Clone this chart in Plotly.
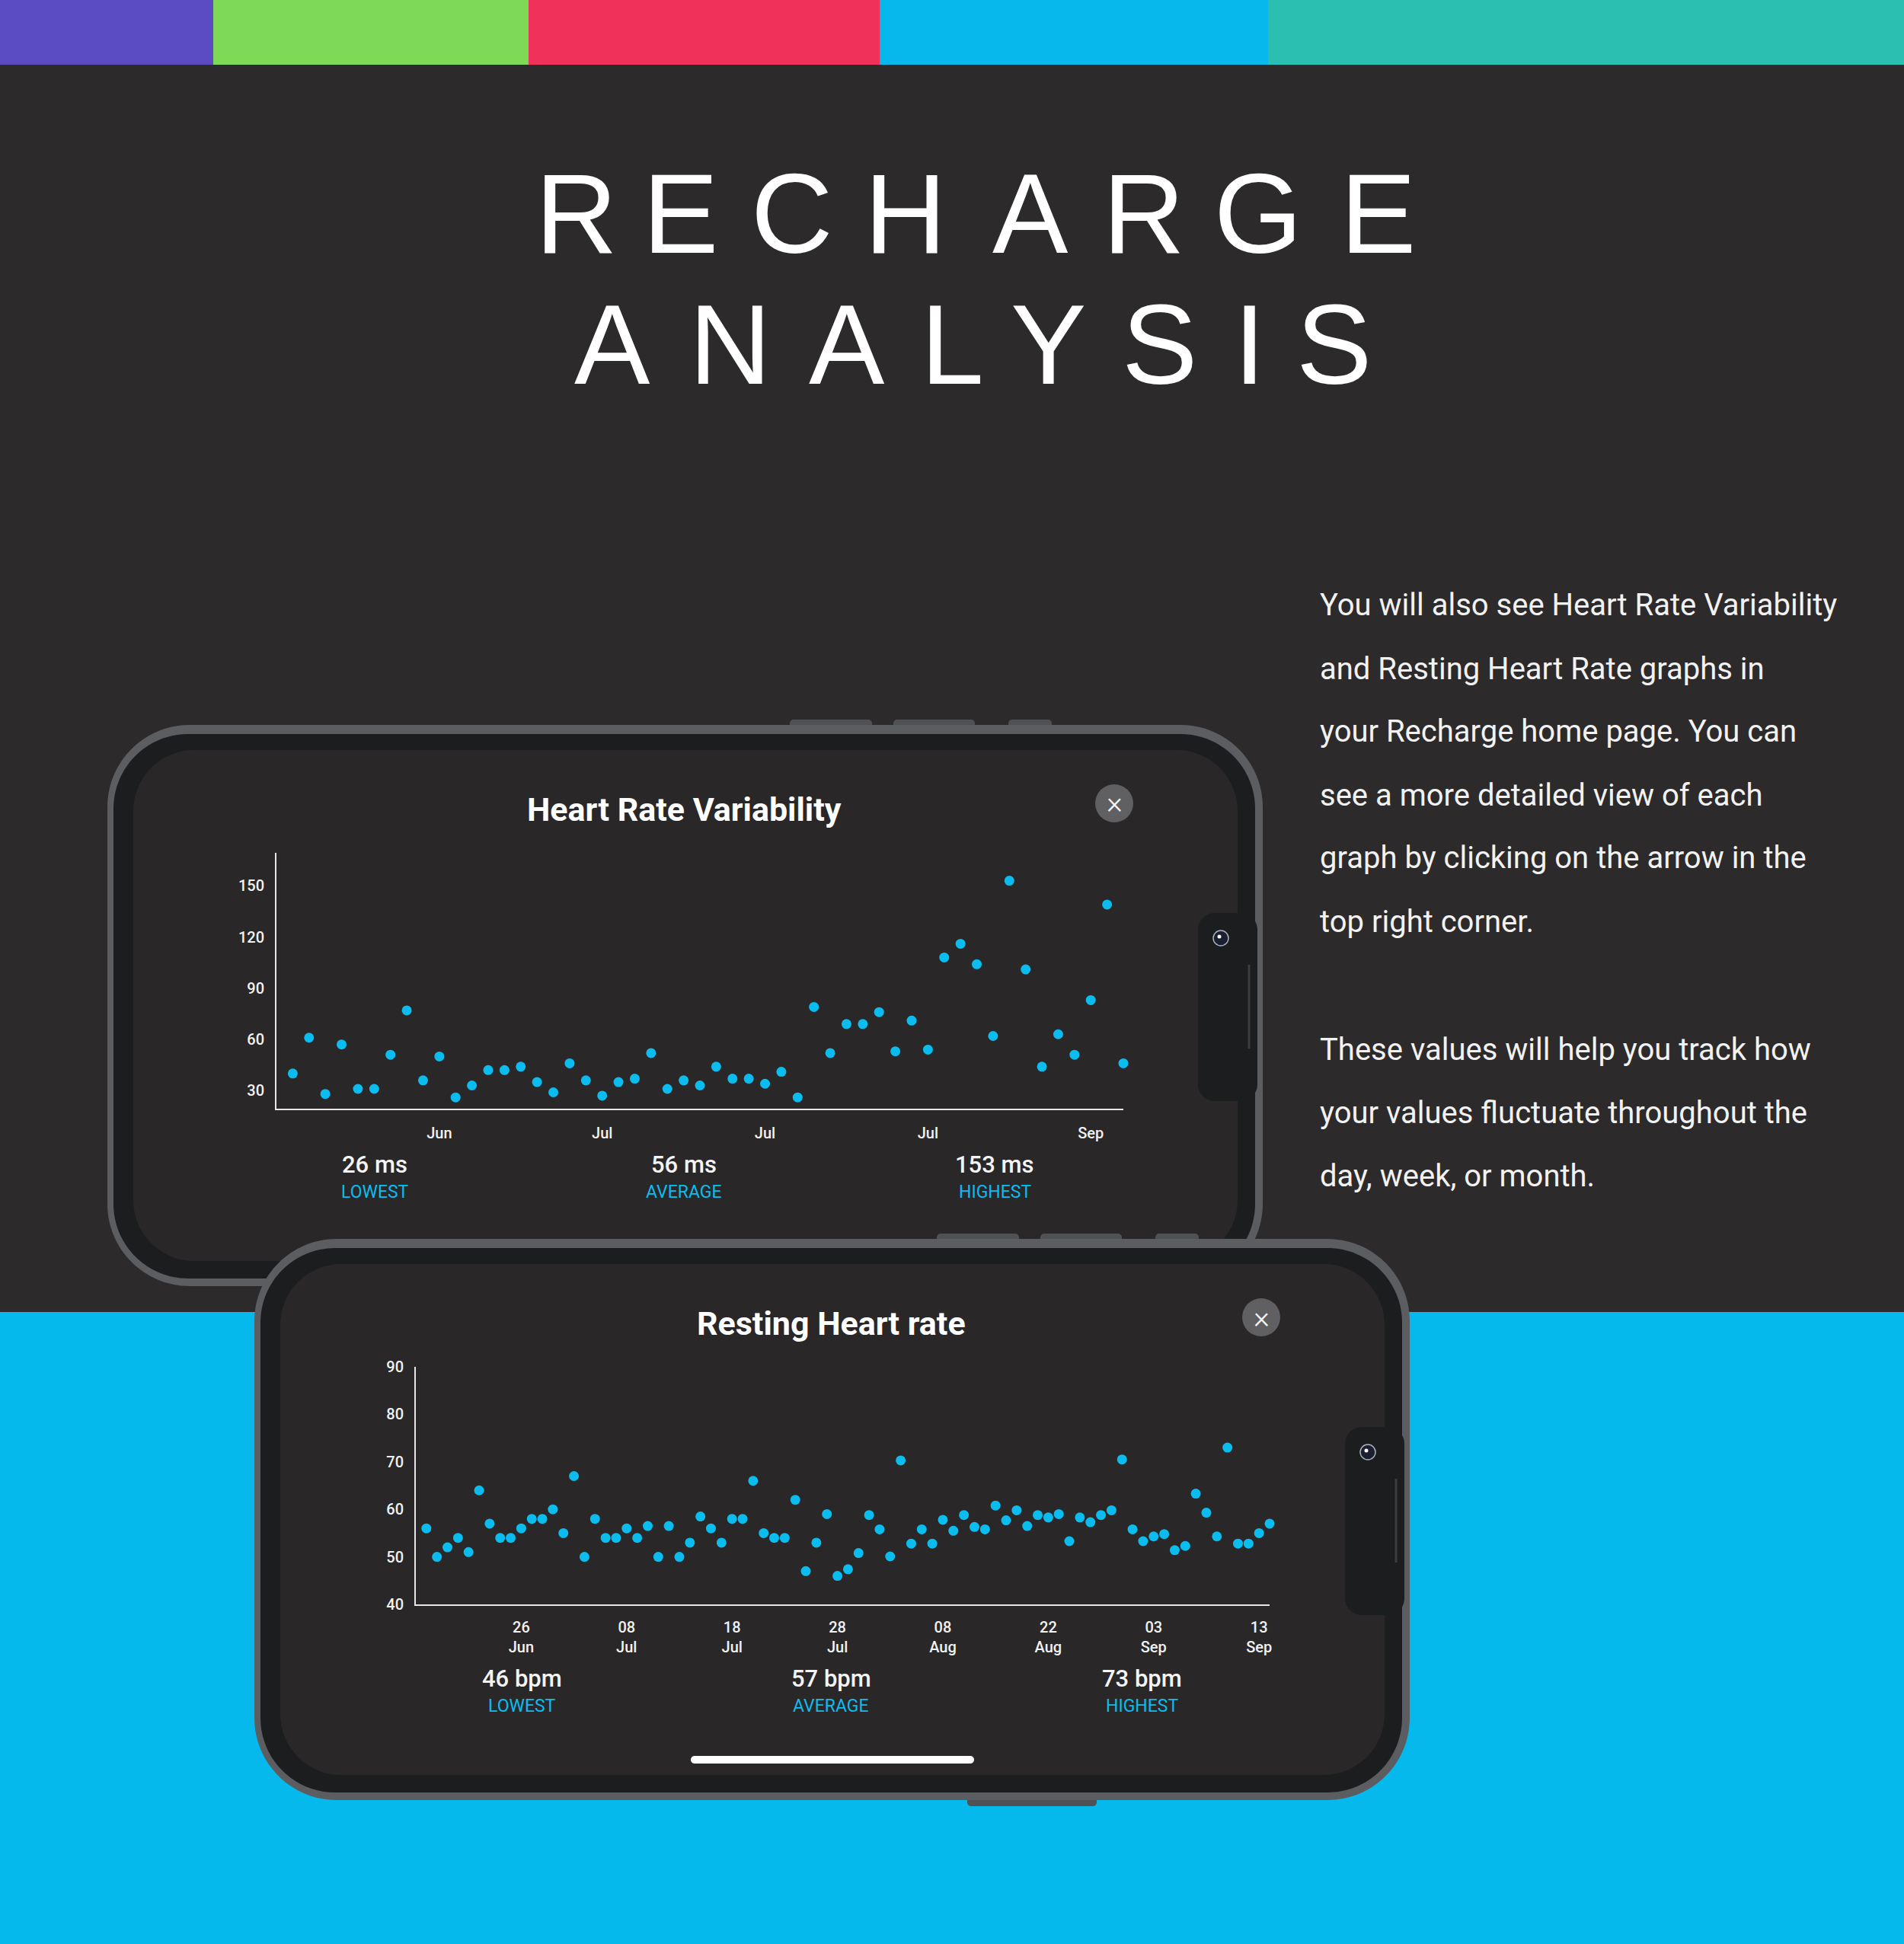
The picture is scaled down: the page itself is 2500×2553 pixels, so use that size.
import plotly.graph_objects as go

W, H = 2500, 2553

# ---- data ----
hrv_ms = [40, 61, 28, 57, 31, 31, 51, 77, 36, 50, 26, 33, 42, 42, 44, 35, 29, 46, 36, 27,
          35, 37, 52, 31, 36, 33, 44, 37, 37, 34, 41, 26, 79, 52, 69, 69, 76, 53, 71, 54,
          108, 116, 104, 62, 153, 101, 44, 63, 51, 83, 139, 46]
hrv_tickvals = [10, 20, 30, 40, 50]
hrv_ticktext = ['Jun', 'Jul', 'Jul', 'Jul', 'Sep']
hrv_yticks = [30, 60, 90, 120, 150]

rhr_bpm = [56, 50, 52, 54, 51, 64, 57, 54, 54, 56, 58, 58, 60, 55, 67, 50, 58, 54, 54, 56,
           54, 56.5, 50, 56.5, 50, 53, 58.5, 56, 53, 58, 58, 66, 55, 54, 54, 62, 47, 53, 59, 46,
           47.4, 50.8, 58.8, 55.8, 50.1, 70.3, 52.8, 55.8, 52.8, 57.8, 55.5, 58.8, 56.3, 55.8,
           60.8, 57.7, 59.8, 56.5, 58.8, 58.3, 59, 53.3, 58.3, 57.3, 58.8, 59.8, 70.5, 55.8,
           53.3, 54.3, 54.8, 51.4, 52.3, 63.3, 59.3, 54.3, 73, 52.8, 52.8, 55, 57]
rhr_tickvals = [10, 20, 30, 40, 50, 60, 70, 80]
rhr_ticktext = ['26<br>Jun', '08<br>Jul', '18<br>Jul', '28<br>Jul',
                '08<br>Aug', '22<br>Aug', '03<br>Sep', '13<br>Sep']
rhr_yticks = [40, 50, 60, 70, 80, 90]

hrv_stats = ['26 ms', '56 ms', '153 ms']
rhr_stats = ['46 bpm', '57 bpm', '73 bpm']
stat_labels = ['LOWEST', 'AVERAGE', 'HIGHEST']

title_1 = 'RECHARGE'
title_2 = 'ANALYSIS'
para_1 = ['You will also see Heart Rate Variability',
          'and Resting Heart Rate graphs in',
          'your Recharge home page. You can',
          'see a more detailed view of each',
          'graph by clicking on the arrow in the',
          'top right corner.']
para_2 = ['These values will help you track how',
          'your values fluctuate throughout the',
          'day, week, or month.']

CYAN = '#0BBDEF'


def X(p):
    return p / W


def Y(p):
    return 1 - p / H


def rrect(x0, y0, x1, y1, r):
    k = 0.5523 * r
    pts = [('M', [(x0 + r, y0)]), ('L', [(x1 - r, y0)]),
           ('C', [(x1 - r + k, y0), (x1, y0 + r - k), (x1, y0 + r)]),
           ('L', [(x1, y1 - r)]),
           ('C', [(x1, y1 - r + k), (x1 - r + k, y1), (x1 - r, y1)]),
           ('L', [(x0 + r, y1)]),
           ('C', [(x0 + r - k, y1), (x0, y1 - r + k), (x0, y1 - r)]),
           ('L', [(x0, y0 + r)]),
           ('C', [(x0, y0 + r - k), (x0 + r - k, y0), (x0 + r, y0)])]
    s = ''
    for cmd, ps in pts:
        s += cmd + ' '.join('%.6f,%.6f' % (X(a), Y(b)) for a, b in ps) + ' '
    return s + 'Z'


shapes = []
annotations = []


def box(x0, y0, x1, y1, r, color):
    shapes.append(dict(type='path', path=rrect(x0, y0, x1, y1, r), xref='paper', yref='paper',
                       fillcolor=color, line=dict(width=0), layer='below'))


def circ(cx, cy, r, color, line_color=None, lw=0):
    shapes.append(dict(type='circle', xref='paper', yref='paper',
                       x0=X(cx - r), x1=X(cx + r), y0=Y(cy + r), y1=Y(cy - r),
                       fillcolor=color, line=dict(width=lw, color=line_color or color),
                       layer='below'))


def text(x, y, s, size, color='white', weight=400, family='Roboto', xanchor='center'):
    annotations.append(dict(x=X(x), y=Y(y), xref='paper', yref='paper', text=s, showarrow=False,
                            xanchor=xanchor, yanchor='middle',
                            font=dict(size=size, color=color, family=family, weight=weight)))


# background blocks
shapes.append(dict(type='rect', xref='paper', yref='paper', x0=0, x1=1, y0=Y(1723), y1=1,
                   fillcolor='#2c2a2b', line=dict(width=0), layer='below'))
strip = [(0, 280, '#5B4CC4'), (280, 694, '#7ED957'), (694, 1155, '#F0325A'),
         (1155, 1665, '#06B8EC'), (1665, 2500, '#2BBFB1')]
for a, b, c in strip:
    shapes.append(dict(type='rect', xref='paper', yref='paper', x0=X(a), x1=X(b), y0=Y(85), y1=1,
                       fillcolor=c, line=dict(width=0), layer='below'))


def phone(ox, oy, title, stats):
    w, h = 1517, 737
    for a, b in [(896, 1004), (1032, 1139), (1183, 1240)]:
        box(ox + a, oy - 7, ox + b, oy + 10, 5, '#505154')
    box(ox + 936, oy + h - 10, ox + 1106, oy + h + 8, 5, '#505154')
    box(ox, oy, ox + w, oy + h, 108, '#5c5d60')
    box(ox + 8, oy + 12, ox + w - 10, oy + h - 10, 98, '#1c1d1f')
    box(ox + 34, oy + 33, ox + w - 33, oy + h - 33, 80, '#2a2728')
    box(ox + 1432, oy + 247, ox + 1510, oy + 494, 22, '#1c1d1f')
    shapes.append(dict(type='line', xref='paper', yref='paper', x0=X(ox + 1499), x1=X(ox + 1499),
                       y0=Y(oy + 315), y1=Y(oy + 425), line=dict(color='#3c3d40', width=3),
                       layer='below'))
    circ(ox + 1462, oy + 280, 10, '#1b2030', '#aab0bb', 1.5)
    circ(ox + 1460, oy + 278, 2.5, '#ffffff')
    circ(ox + 1322, oy + 103, 25, '#606062')
    text(ox + 1322, oy + 103, '×', 40, '#f4f4f4', 300)
    text(ox + 757, oy + 111, title, 43, '#ffffff', 700)
    for cx, v, lab in zip([351, 757, 1165], stats, stat_labels):
        text(ox + cx, oy + 577, v, 31, '#f4f4f4', 500)
        text(ox + cx, oy + 613, lab, 23, CYAN, 400)


phone(141, 952, 'Heart Rate Variability', hrv_stats)
phone(334, 1627, 'Resting Heart rate', rhr_stats)
box(907, 2306, 1279, 2316, 5, '#ffffff')

# big title, one letter per annotation to get the wide tracking
for cx, ch in zip([757, 894, 1040, 1189, 1353, 1502, 1652, 1809], title_1):
    text(cx, 281, ch, 149, '#ffffff', 400, 'Liberation Sans')
for cx, ch in zip([804, 959, 1112, 1250, 1376, 1522, 1640, 1751], title_2):
    text(cx, 453, ch, 149, '#ffffff', 400, 'Liberation Sans')

for i, line in enumerate(para_1):
    text(1731, 795 + 83 * i, line, 40, '#f2f2f2', 400, 'Roboto', 'left')
for i, line in enumerate(para_2):
    text(1731, 1378 + 83 * i, line, 40, '#f2f2f2', 400, 'Roboto', 'left')

fig = go.Figure()
fig.add_trace(go.Scatter(x=list(range(1, len(hrv_ms) + 1)), y=hrv_ms, mode='markers',
                         marker=dict(color=CYAN, size=13), cliponaxis=False,
                         xaxis='x', yaxis='y', showlegend=False))
fig.add_trace(go.Scatter(x=list(range(1, len(rhr_bpm) + 1)), y=rhr_bpm, mode='markers',
                         marker=dict(color=CYAN, size=13), cliponaxis=False,
                         xaxis='x2', yaxis='y2', showlegend=False))

tickfont = dict(family='Roboto', size=20, color='#f2f2f2', weight=500)
axis_common = dict(showgrid=False, zeroline=False, showline=True, linecolor='#e6e6e6',
                   linewidth=2, ticks='', tickfont=tickfont, automargin=False)

fig.update_layout(
    width=W, height=H, margin=dict(l=0, r=0, t=0, b=0, pad=0, autoexpand=False),
    paper_bgcolor='#06B9EC', plot_bgcolor='rgba(0,0,0,0)', showlegend=False,
    shapes=shapes, annotations=annotations,
    xaxis=dict(domain=[X(363), X(1475)], range=[0, 52], tickvals=hrv_tickvals,
               ticktext=hrv_ticktext, anchor='y', ticklabelstandoff=13, **axis_common),
    yaxis=dict(domain=[Y(1456), Y(1120)], range=[19.4, 169.3], tickvals=hrv_yticks,
               anchor='x', ticklabelstandoff=10, **axis_common),
    xaxis2=dict(domain=[X(546), X(1667)], range=[0, 81], tickvals=rhr_tickvals,
                ticktext=rhr_ticktext, anchor='y2', ticklabelstandoff=11, **axis_common),
    yaxis2=dict(domain=[Y(2107), Y(1795)], range=[40, 90], tickvals=rhr_yticks,
                anchor='x2', ticklabelstandoff=10, **axis_common),
)

# drop the browser's default body margin so the figure fills the window
fig.write_html("out.html", config={'displayModeBar': False},
               post_script="document.body.style.margin='0';"
                           "document.documentElement.style.overflow='hidden';")
